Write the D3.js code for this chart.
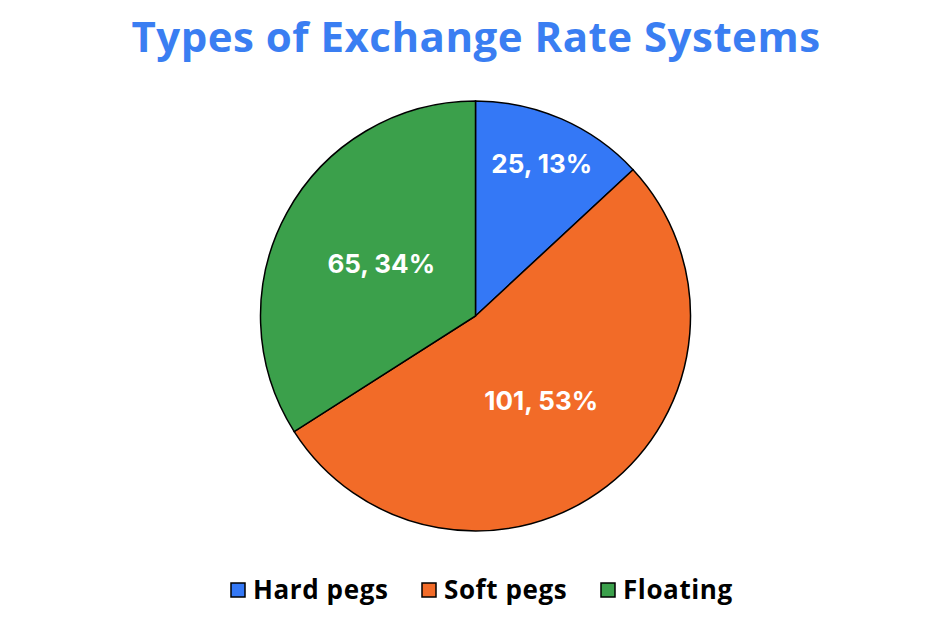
<!DOCTYPE html>
<html>
<head>
<meta charset="utf-8">
<script src="https://cdn.jsdelivr.net/npm/d3@7"></script>
<style>
  body { margin: 0; background: #fff; }
</style>
</head>
<body>
<div id="chart"></div>
<script>
// data
var categories = ["Hard pegs", "Soft pegs", "Floating"];
var counts = [25, 101, 65];
var colors = ["#3478F6", "#F26B28", "#3BA04B"];

var svgWidth = 946;
var svgHeight = 624;

var svg = d3.select("#chart")
    .append("svg")
    .attr("width", svgWidth)
    .attr("height", svgHeight);

// title
svg.append("text")
    .attr("x", 476)
    .attr("y", 52)
    .attr("text-anchor", "middle")
    .attr("font-family", "'Open Sans', sans-serif")
    .attr("font-weight", 700)
    .attr("font-size", "42px")
    .attr("letter-spacing", "0.5px")
    .attr("fill", "#3A7EF2")
    .text("Types of Exchange Rate Systems");

// pie
var cx = 475.5, cy = 316, radius = 215;
var total = d3.sum(counts);

var pie = d3.pie().sort(null).value(d => d.value);
var arc = d3.arc().innerRadius(0).outerRadius(radius);

var data = categories.map((c, i) => ({ name: c, value: counts[i], color: colors[i] }));
var arcs = pie(data);

var pieGroup = svg.append("g")
    .attr("transform", `translate(${cx}, ${cy})`);

pieGroup.selectAll("path")
    .data(arcs)
    .enter()
    .append("path")
    .attr("d", arc)
    .attr("fill", d => d.data.color)
    .attr("stroke", "#000")
    .attr("stroke-width", 1.5);

// labels - small slices get pushed further out
pieGroup.selectAll("text")
    .data(arcs)
    .enter()
    .append("text")
    .attr("transform", function(d) {
        var frac = (d.endAngle - d.startAngle) < 1 ? 0.77 : 0.5;
        var a = (d.startAngle + d.endAngle) / 2;
        return `translate(${Math.sin(a) * radius * frac}, ${-Math.cos(a) * radius * frac})`;
    })
    .attr("dy", "0.35em")
    .attr("text-anchor", "middle")
    .attr("font-family", "Inter, 'Open Sans', sans-serif")
    .attr("font-weight", 700)
    .attr("font-size", "26px")
    .attr("fill", "#fff")
    .text(d => `${d.data.value}, ${Math.round(d.data.value / total * 100)}%`);

// legend
var legendX = [231, 422, 601];
var legend = svg.append("g");

var items = legend.selectAll("g")
    .data(data)
    .enter()
    .append("g")
    .attr("transform", (d, i) => `translate(${legendX[i]}, 583)`);

items.append("rect")
    .attr("width", 14)
    .attr("height", 14)
    .attr("fill", d => d.color)
    .attr("stroke", "#000")
    .attr("stroke-width", 1.5);

items.append("text")
    .attr("x", 22)
    .attr("y", 16)
    .attr("font-family", "'Open Sans', sans-serif")
    .attr("font-weight", 700)
    .attr("font-size", "26px")
    .attr("letter-spacing", "0.6px")
    .attr("fill", "#000")
    .text(d => d.name);
</script>
</body>
</html>
